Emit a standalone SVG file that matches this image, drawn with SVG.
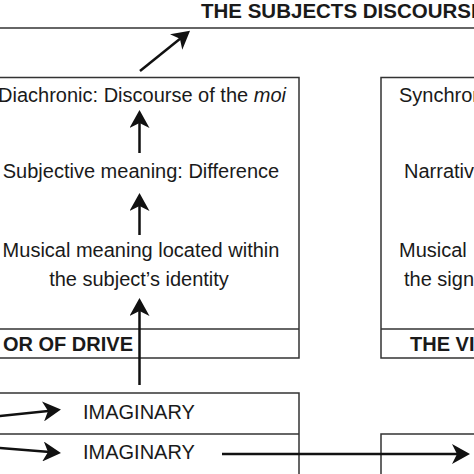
<svg xmlns="http://www.w3.org/2000/svg" width="474" height="474" viewBox="0 0 474 474">
<style>
.box{fill:none;stroke:#333;stroke-width:1.5}
.t{font-family:"Liberation Sans",Arial,sans-serif;font-size:20px;fill:#1a1a1a}
.b{font-weight:bold}
.c{text-anchor:middle}
.arr{stroke:#111;stroke-width:2.5;fill:none;marker-end:url(#ah)}
</style>
<defs>
<marker id="ah" markerUnits="userSpaceOnUse" viewBox="0 -10 18 20" refX="10" refY="0" markerWidth="18" markerHeight="20" orient="auto">
<path d="M0,-10 L18,0 L0,10 L5,0 z" fill="#111"/>
</marker>
</defs>
<rect width="474" height="474" fill="#fff"/>
<g id="title">
<line class="box" x1="0" y1="28" x2="474" y2="28"/>
<text class="t b" x="201" y="18" style="font-size:20.5px">THE SUBJECTS DISCOURSE</text>
</g>
<g id="left-box">
<polyline class="box" points="-2,77.5 299,77.5 299,358 -2,358"/>
<line class="box" x1="-2" y1="329" x2="299" y2="329"/>
<text class="t c" x="142" y="102">Diachronic: Discourse of the <tspan font-style="italic">moi</tspan></text>
<text class="t c" x="141" y="178">Subjective meaning: Difference</text>
<text class="t c" x="141" y="257">Musical meaning located within</text>
<text class="t c" x="139" y="286">the subject’s identity</text>
<text class="t b" x="133" y="351" text-anchor="end">OR OF DRIVE</text>
</g>
<g id="right-box">
<polyline class="box" points="476,77.5 381,77.5 381,358 476,358"/>
<line class="box" x1="381" y1="329" x2="476" y2="329"/>
<text class="t" x="399" y="102">Synchronic</text>
<text class="t" x="404" y="178">Narrative</text>
<text class="t" x="399" y="257">Musical</text>
<text class="t" x="404" y="286">the sign</text>
<text class="t b" x="410" y="351">THE VI</text>
</g>
<g id="imaginary-box">
<polyline class="box" points="-2,393 299,393 299,476"/>
<line class="box" x1="-2" y1="434" x2="299" y2="434"/>
<text class="t" x="83" y="419">IMAGINARY</text>
<text class="t" x="83" y="459">IMAGINARY</text>
</g>
<g id="right-lower-box">
<polyline class="box" points="381,476 381,434 476,434"/>
</g>
<g id="connectors">
<line class="arr" x1="140" y1="71" x2="183.8" y2="35.7"/>
<line class="arr" x1="139.5" y1="153" x2="139.5" y2="118"/>
<line class="arr" x1="139.5" y1="235" x2="139.5" y2="201"/>
<line class="arr" x1="139.5" y1="385" x2="139.5" y2="306"/>
<line class="arr" x1="-2" y1="416.2" x2="53" y2="410.4"/>
<line class="arr" x1="-2" y1="447.8" x2="53" y2="452.3"/>
<line class="arr" x1="222" y1="454" x2="462" y2="454"/>
</g>
</svg>
